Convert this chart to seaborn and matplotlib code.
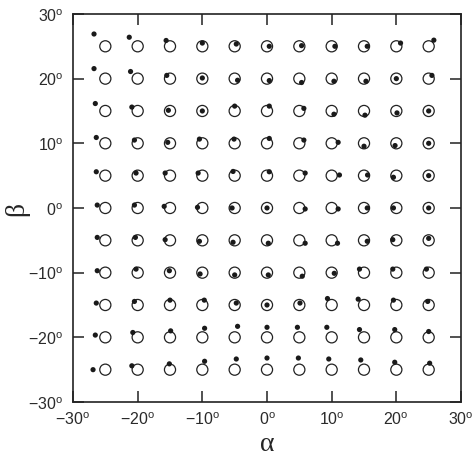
import numpy as np
import pandas as pd
import seaborn as sns
import matplotlib.pyplot as plt

# grid of nominal angles (open circles)
alpha_grid = [-25, -20, -15, -10, -5, 0, 5, 10, 15, 20, 25]
beta_grid = [25, 20, 15, 10, 5, 0, -5, -10, -15, -20, -25]

# measured offsets of the filled dots from the grid (degrees), rows follow beta_grid
d_alpha = [
    [-1.75, -1.3, -0.6, 0.0, 0.25, 0.35, 0.35, 0.5, 0.5, 0.65, 0.8],
    [-1.75, -1.1, -0.5, 0.0, 0.45, 0.35, 0.35, 0.35, 0.3, 0.0, 0.5],
    [-1.55, -0.9, -0.25, 0.0, 0.0, 0.35, 0.7, 0.35, 0.15, 0.1, 0.0],
    [-1.4, -0.5, -0.35, -0.45, -0.1, 0.35, 0.7, 1.0, 0.0, -0.2, 0.0],
    [-1.4, -0.25, -0.75, -0.65, -0.25, 0.35, 0.9, 1.2, 0.55, -0.45, 0.0],
    [-1.25, -0.5, -0.9, -0.75, -0.4, 0.0, 0.9, 1.0, 0.5, -0.45, 0.0],
    [-1.25, -0.35, -0.75, -0.45, -0.25, 0.2, 0.9, 0.9, 0.5, -0.55, 0.0],
    [-1.25, -0.25, -0.1, -0.35, 0.0, 0.2, 0.45, 0.4, -0.7, -0.55, -0.35],
    [-1.4, -0.5, 0.0, 0.3, 0.25, 0.0, 0.1, -0.65, -0.9, -0.45, -0.15],
    [-1.55, -0.75, 0.1, 0.35, 0.45, 0.0, -0.3, -0.75, -0.7, -0.25, 0.0],
    [-1.9, -0.9, -0.1, 0.35, 0.25, 0.0, -0.15, -0.45, -0.5, -0.25, 0.15],
]
d_beta = [
    [1.9, 1.4, 0.9, 0.5, 0.35, 0.0, 0.1, 0.0, 0.0, 0.5, 0.95],
    [1.55, 1.1, 0.5, 0.1, -0.25, -0.3, -0.6, -0.4, -0.4, 0.0, 0.5],
    [1.15, 0.6, 0.1, 0.0, 0.75, 0.75, 0.4, -0.5, -0.65, -0.3, 0.0],
    [0.9, 0.5, 0.15, 0.65, 0.65, 0.75, 0.5, 0.15, -0.45, -0.35, 0.0],
    [0.6, 0.4, 0.4, 0.4, 0.65, 0.6, 0.4, 0.1, 0.1, -0.25, 0.0],
    [0.45, 0.45, 0.25, 0.1, 0.0, 0.0, -0.15, -0.15, 0.0, 0.0, 0.0],
    [0.45, 0.45, 0.1, -0.15, -0.3, -0.45, -0.45, -0.45, -0.15, 0.1, 0.3],
    [0.3, 0.55, 0.3, -0.2, -0.35, -0.35, -0.55, -0.1, 0.55, 0.55, 0.55],
    [0.3, 0.55, 0.75, 0.75, 0.3, 0.0, 0.3, 1.0, 0.9, 0.75, 0.55],
    [0.35, 0.75, 1.0, 1.4, 1.7, 1.55, 1.55, 1.55, 1.2, 1.2, 0.9],
    [0.0, 0.6, 0.9, 1.3, 1.65, 1.8, 1.8, 1.65, 1.5, 1.15, 1.0],
]

ticks = [-30, -20, -10, 0, 10, 20, 30]

rows = []
for i, b in enumerate(beta_grid):
    for j, a in enumerate(alpha_grid):
        rows.append((a, b, a + d_alpha[i][j], b + d_beta[i][j]))
df = pd.DataFrame(rows, columns=["alpha", "beta", "alpha_m", "beta_m"])

sns.set_style("ticks")
plt.rcParams["font.family"] = ["Liberation Sans", "DejaVu Sans"]
plt.rcParams["mathtext.fontset"] = "custom"
plt.rcParams["mathtext.rm"] = "Liberation Sans"

fig = plt.figure(figsize=(4.74, 4.56), dpi=100)
ax = fig.add_axes([0.154, 0.1162, 0.8186, 0.851])

sns.scatterplot(data=df, x="alpha", y="beta", ax=ax, s=64, marker="o",
                facecolor="none", edgecolor="#222222", linewidth=0.9, zorder=2)
sns.scatterplot(data=df, x="alpha_m", y="beta_m", ax=ax, s=14, marker="o",
                color="#1a1a1a", edgecolor="none", zorder=3)

ax.set_xlim(-30, 30)
ax.set_ylim(-30, 30)


def deg(v):
    sign = "\u2212" if v < 0 else ""
    return f"{sign}{abs(v)}$^{{\\rm o}}$"


ax.set_xticks(ticks)
ax.set_yticks(ticks)
ax.set_xticklabels([deg(t) for t in ticks], fontsize=11.5, color="#2a2a2a")
ax.set_yticklabels([deg(t) for t in ticks], fontsize=11.5, color="#2a2a2a")
ax.tick_params(direction="in", length=8, width=1.1, color="#222222",
               top=True, right=True)
ax.tick_params(axis="x", pad=6)
ax.tick_params(axis="y", pad=7)
for sp in ax.spines.values():
    sp.set_linewidth(1.2)
    sp.set_color("#222222")
    sp.set_visible(True)

ax.set_xlabel("\u03b1", fontsize=20, family=["Liberation Serif", "DejaVu Serif"], labelpad=3)
ax.set_ylabel("\u03b2", fontsize=20, family=["Liberation Serif", "DejaVu Serif"])
ax.yaxis.set_label_coords(-0.112, 0.5)

fig.savefig("out.png", dpi=100)
